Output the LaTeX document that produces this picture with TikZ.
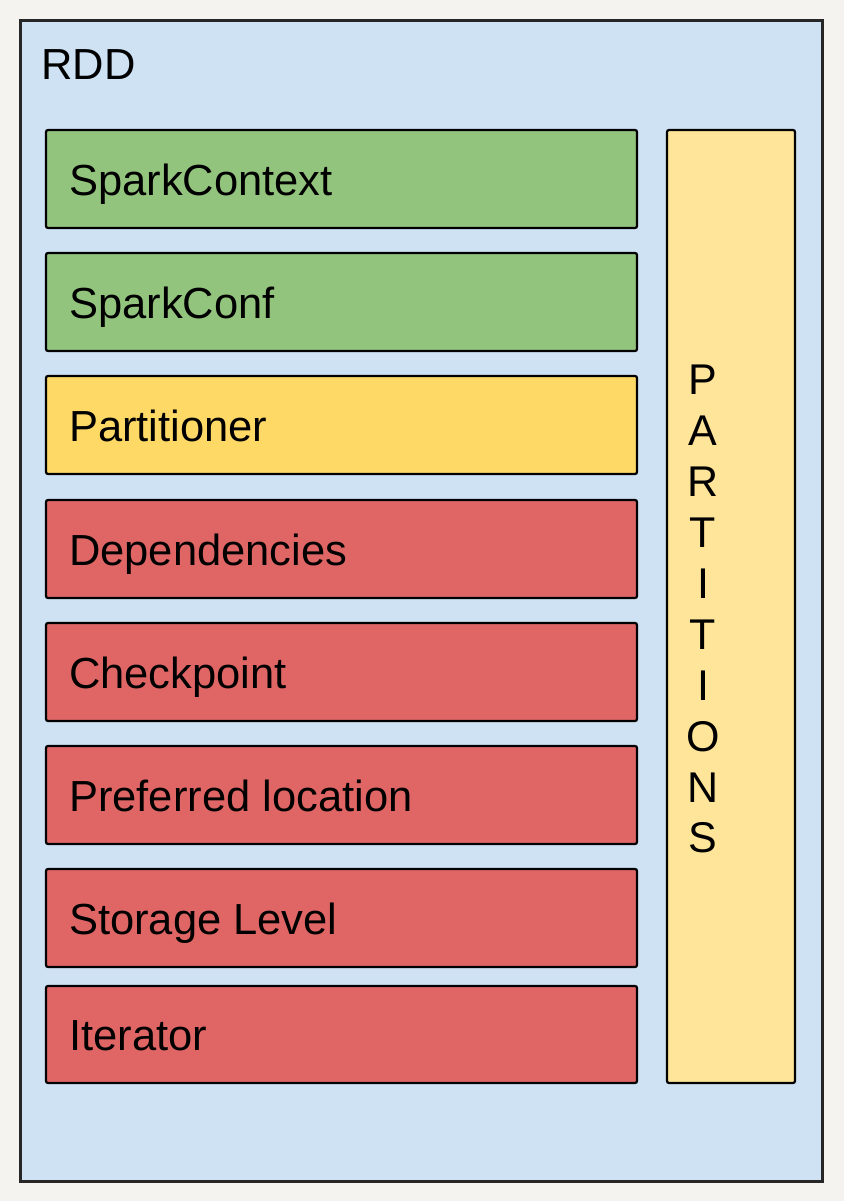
\documentclass[tikz,border=0pt]{standalone}
\usepackage{fontspec}
\setmainfont{Liberation Sans}
\definecolor{bgc}{HTML}{F4F3EF}
\definecolor{rddc}{HTML}{CFE2F3}
\definecolor{greenc}{HTML}{93C47D}
\definecolor{yellowc}{HTML}{FFD966}
\definecolor{redc}{HTML}{E06666}
\definecolor{partc}{HTML}{FFE599}
\tikzset{
  box/.style={draw=black, line width=2.2pt, rounded corners=2pt},
  lbl/.style={anchor=base west, inner sep=0pt, font=\fontsize{43.5}{48}\selectfont},
  letter/.style={anchor=center, inner sep=0pt, font=\fontsize{43}{48}\selectfont},
}
\begin{document}
\begin{tikzpicture}[x=1pt,y=-1pt]
\fill[bgc] (0,0) rectangle (844,1201);
\useasboundingbox (0,0) rectangle (844,1201);
\draw[fill=rddc, draw=black!85, line width=3pt] (20,21) rectangle (822,1181);
\node[lbl] (rdd) at (41,80) {RDD};
\foreach \n/\t/\b/\c/\s in {
  sc/130/228/greenc/SparkContext,
  sf/253/351/greenc/SparkConf,
  pa/376/474/yellowc/Partitioner,
  de/500/598/redc/Dependencies,
  ch/623/721/redc/Checkpoint,
  pl/746/844/redc/Preferred location,
  sl/869/967/redc/Storage Level,
  it/986/1083/redc/Iterator}{
  \draw[box, fill=\c] (46,\t) rectangle (637,\b);
  \node[lbl] (\n) at (69,{(\t+\b)/2+16}) {\s};
}
\draw[box, fill=partc] (667,130) rectangle (795,1083);
\foreach \l [count=\i] in {P,A,R,T,I,T,I,O,N,S}{
  \node[letter] (p\i) at (703,{380+50.9*(\i-1)}) {\l};
}
\end{tikzpicture}
\end{document}
